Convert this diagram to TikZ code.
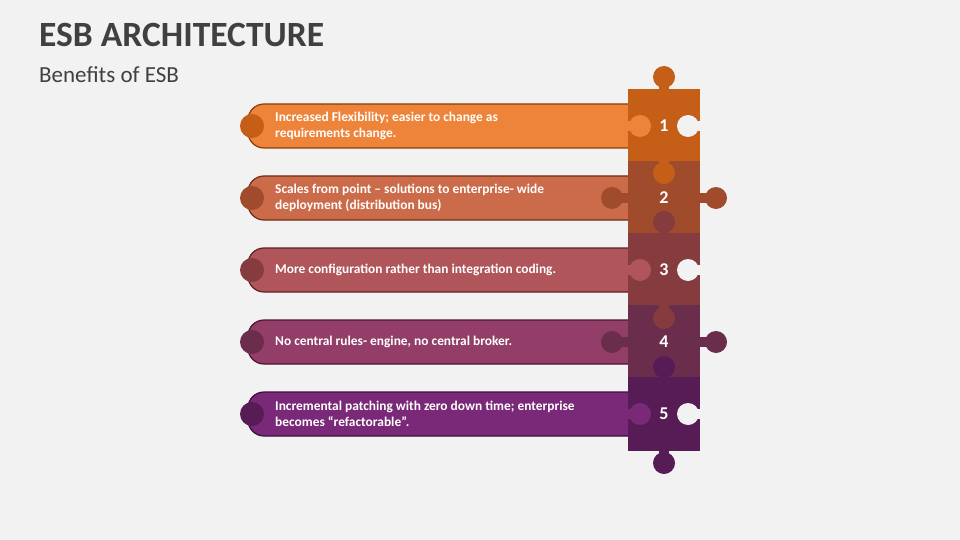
\documentclass[tikz,border=0pt]{standalone}
\usepackage{fontspec}
\setmainfont{Carlito}
\begin{document}
\begin{tikzpicture}[x=1pt,y=-1pt,
  txt/.style={text=white,font=\fontsize{13.4}{16.5}\selectfont\bfseries,anchor=west,align=left,inner sep=0},
  num/.style={text=white,font=\fontsize{18}{18}\selectfont\bfseries}]
\useasboundingbox[fill=black!5] (0,0) rectangle (960,540);
\node[anchor=west,text=black!75,font=\fontsize{35.5}{35.5}\selectfont\bfseries,inner sep=0] (title) at (39,35) {ESB ARCHITECTURE};
\node[anchor=west,text=black!75,font=\fontsize{23}{23}\selectfont,inner sep=0] (sub) at (39,75) {Benefits of ESB};
\definecolor{b1}{HTML}{ED843A}\definecolor{p1}{HTML}{C55E16}\definecolor{e1}{HTML}{8A3C0C}
\definecolor{b2}{HTML}{CC6B4A}\definecolor{p2}{HTML}{A04C2C}\definecolor{e2}{HTML}{6E2E17}
\definecolor{b3}{HTML}{B0555A}\definecolor{p3}{HTML}{863B3F}\definecolor{e3}{HTML}{5E2226}
\definecolor{b4}{HTML}{923E68}\definecolor{p4}{HTML}{6B2D4C}\definecolor{e4}{HTML}{4A1733}
\definecolor{b5}{HTML}{7A2878}\definecolor{p5}{HTML}{571C55}\definecolor{e5}{HTML}{3E0F3C}
\def\bg{black!5}
\foreach \i/\c/\t in {1/126/{Increased Flexibility; easier to change as\\requirements change.},
 2/198/{Scales from point -- solutions to enterprise- wide\\deployment (distribution bus)},
 3/270/{More configuration rather than integration coding.},
 4/342/{No central rules- engine, no central broker.},
 5/414/{Incremental patching with zero down time; enterprise\\becomes “refactorable”.}}{
  \draw[fill=b\i,draw=e\i,line width=1.2pt,rounded corners=16] (640,\c-22) -- (248,\c-22) -- (248,\c+22) -- (640,\c+22);
  \fill[p\i] (252,\c) circle (12);
  \node[txt] (t\i) at (275,\c) {\t};
}
\foreach \i/\c in {1/126,2/198,3/270,4/342,5/414}{
  \fill[p\i] (628,\c-37) rectangle (700,\c+37);
}
\fill[p1] (659,89) rectangle (669,80); \fill[p1] (664,77) circle (11);
\fill[p5] (659,450) rectangle (669,459); \fill[p5] (664,463) circle (11);
\foreach \i/\c in {1/126,3/270,5/414}{
  \fill[b\i] (628,\c-5) rectangle (636,\c+5); \fill[b\i] (640,\c) circle (11);
  \fill[\bg] (692,\c-5) rectangle (700,\c+5); \fill[\bg] (688,\c) circle (11);
}
\foreach \i/\c in {2/198,4/342}{
  \fill[p\i] (620,\c-5) rectangle (628,\c+5); \fill[p\i] (612,\c) circle (11);
  \fill[p\i] (700,\c-5) rectangle (708,\c+5); \fill[p\i] (716,\c) circle (11);
}
\fill[p1] (659,161) rectangle (669,168); \fill[p1] (664,173) circle (11);
\fill[p3] (659,226) rectangle (669,234); \fill[p3] (664,222) circle (11);
\fill[p3] (659,305) rectangle (669,313); \fill[p3] (664,318) circle (11);
\fill[p5] (659,372) rectangle (669,380); \fill[p5] (664,367) circle (11);
\foreach \i/\c in {1/126,2/198,3/270,4/342,5/414}{
  \node[num] (n\i) at (664,\c) {\i};
}
\end{tikzpicture}
\end{document}
